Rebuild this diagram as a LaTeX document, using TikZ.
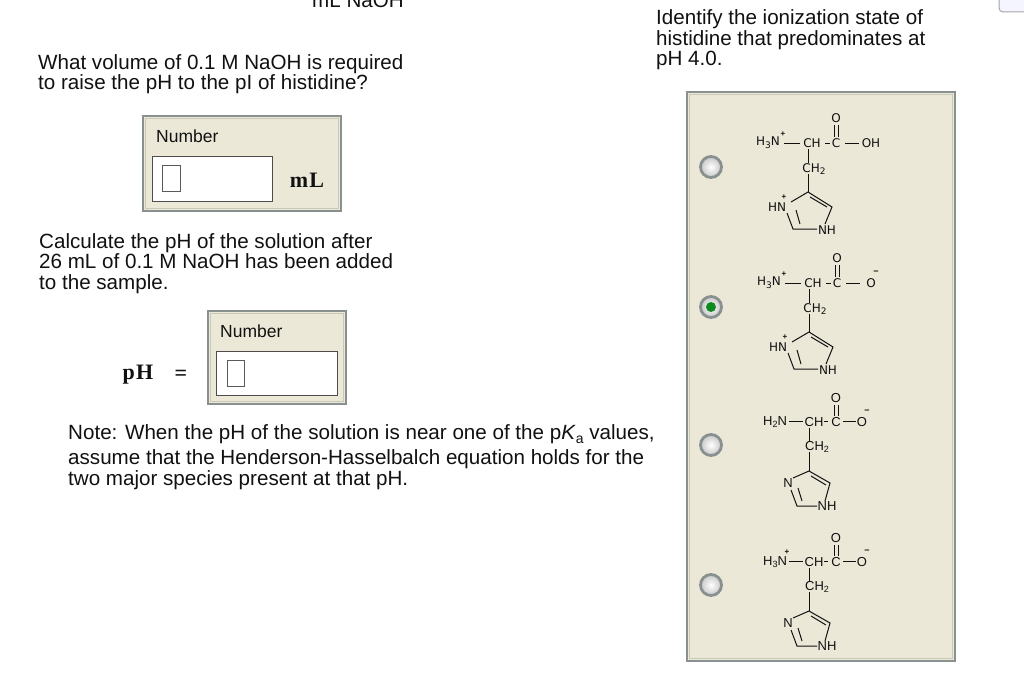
\documentclass[tikz,border=0pt]{standalone}
\usepackage{fontspec}
\setmainfont{Liberation Sans}
\newfontfamily\molsans{DejaVu Sans}
\newfontfamily\serifb[LetterSpace=6]{Liberation Serif}
\definecolor{panel}{HTML}{EBE8D8}
\definecolor{edge}{HTML}{88918F}
\definecolor{edgein}{HTML}{C9C9B8}
\definecolor{ink}{HTML}{111111}
\definecolor{radiog}{HTML}{0F8A1E}
\newcommand{\subd}[1]{\raisebox{-.22em}{\fontsize{9}{9}\selectfont #1}}
\tikzset{
  x=1pt,y=-1pt,
  qtext/.style={anchor=base west,inner sep=0pt,font=\fontsize{20.6}{20.6}\selectfont,text=ink},
  lab/.style={anchor=base west,inner sep=0pt,font=\fontsize{17.5}{17.5}\selectfont,text=ink},
  mathb/.style={inner sep=0pt,font=\serifb\bfseries\fontsize{22}{22}\selectfont,text=ink},
  panelbox/.style={draw=edge,line width=2.5pt,fill=panel},
  panelin/.style={draw=edgein,line width=1.5pt},
  field/.style={draw=black!70,line width=1pt,fill=white},
  cursorbox/.style={draw=black!65,line width=.8pt,fill=white},
  atomA/.style={inner sep=0pt,font=\molsans\fontsize{12}{12}\selectfont,text=ink},
  atomB/.style={inner sep=0pt,font=\fontsize{13}{13}\selectfont,text=ink},
  chg/.style={inner sep=0pt,font=\fontsize{8}{8}\selectfont\bfseries,text=ink},
  bond/.style={draw=ink,line width=1pt},
  radio/.style={circle,minimum size=21pt,inner sep=0pt,draw=edge,line width=2.8pt,inner color=white,outer color=white!78!black},
  radiodot/.style={circle,minimum size=10pt,inner sep=0pt,fill=radiog},
}
% first drawing style: #1 x shift, #2 y shift, #3 node prefix, #4 acid tail text, #5 1 if minus charge
\newcommand{\molupper}[5]{%
 \begin{scope}[shift={(#1,#2)}]
  \node[atomA] (#3n) at (768,143) {H\subd{3}N};
  \node[chg] (#3np) at (783,134) {+};
  \node[atomA] (#3ca) at (812,143) {CH};
  \node[atomA] (#3c) at (836,143) {C};
  \node[atomA] (#3o) at (836,118) {O};
  \node[atomA] (#3t) at (#1*-1+871,143) {#4};
  \node[atomA] (#3b) at (814,169) {CH\subd{2}};
  \node[atomA] (#3hn) at (777,207) {HN};
  \node[chg] (#3hp) at (784,197) {+};
  \node[atomA] (#3nh) at (827,230) {NH};
  \ifnum#5=1 \node[chg] (#3m) at (875,133) {\fontsize{9}{9}\selectfont −}; \fi
  \draw[bond] (784,143)--(800,143) (825,143)--(830,143) (845,143)--(859,143);
  \draw[bond] (834,125)--(834,137) (838,125)--(838,137);
  \draw[bond] (808,149)--(808,163) (808,174)--(808,192);
  \draw[bond] (791,202)--(808,192)--(832,207)--(825,224);
  \draw[bond] (810,197)--(827,207);
  \draw[bond] (787,213)--(793,229)--(817,229);
  \draw[bond] (796,210)--(800,224);
 \end{scope}}
% second drawing style
\newcommand{\mollower}[4]{%
 \begin{scope}[shift={(0,#1)}]
  \node[atomB] (#2n) at (775,422) {#3};
  \ifnum#4=1 \node[chg] (#2np) at (787,412) {+}; \fi
  \node[atomB] (#2ca) at (814,422) {CH};
  \node[atomB] (#2c) at (836,422) {C};
  \node[atomB] (#2o) at (836,398) {O};
  \node[atomB] (#2t) at (862,422) {O};
  \node[chg] (#2m) at (867,412) {\fontsize{9}{9}\selectfont −};
  \node[atomB] (#2b) at (817,447) {CH\subd{2}};
  \node[atomB] (#2hn) at (788,483) {N};
  \node[atomB] (#2nh) at (827,506) {NH};
  \draw[bond] (789,421)--(803,421) (824,421)--(828,421) (843,421)--(856,421);
  \draw[bond] (834,405)--(834,416) (838,405)--(838,416);
  \draw[bond] (809,428)--(809,442) (809,452)--(809,471);
  \draw[bond] (793,478)--(809,471)--(830,483)--(825,501);
  \draw[bond] (811,476)--(826,485);
  \draw[bond] (791,490)--(797,506)--(817,506);
  \draw[bond] (798,488)--(802,501);
 \end{scope}}
\begin{document}
\begin{tikzpicture}
\clip (0,0) rectangle (1024,682);
\useasboundingbox (0,0) rectangle (1024,682);
\fill[white] (0,0) rectangle (1024,682);
% top remnants
\node[qtext] (topunit) at (312,8) {mL NaOH};
\draw[fill=blue!4,draw=black!35,line width=1pt,rounded corners=4pt] (999,-8) rectangle (1034,12);
% left questions
\node[qtext] (q1a) at (38,70) {What volume of 0.1 M NaOH is required};
\node[qtext] (q1b) at (38,90) {to raise the pH to the pI of histidine?};
\node[qtext] (q2a) at (39,248) {Calculate the pH of the solution after};
\node[qtext] (q2b) at (39,268) {26 mL of 0.1 M NaOH has been added};
\node[qtext] (q2c) at (39,289) {to the sample.};
\node[qtext] (n1) at (68,439) {Note: When the pH of the solution is near one of the p\textit{K}\raisebox{-.2em}{\fontsize{14}{14}\selectfont a} values,};
\node[qtext] (n2) at (68,464) {assume that the Henderson-Hasselbalch equation holds for the};
\node[qtext] (n3) at (68,485) {two major species present at that pH.};
% right question
\node[qtext] (r1) at (656,25) {Identify the ionization state of};
\node[qtext] (r2) at (656,46) {histidine that predominates at};
\node[qtext] (r3) at (656,66) {pH 4.0.};
% answer box 1
\draw[panelbox] (143,116) rectangle (341,211);
\draw[panelin] (145.5,118.5) rectangle (338.5,208.5);
\node[lab] (num1) at (156,142) {Number};
\draw[field] (152,156) rectangle (272,201);
\draw[cursorbox] (162,165) rectangle (180,191);
\node[mathb] (ml) at (307,180) {mL};
% answer box 2
\node[mathb] (ph) at (138,375) {pH};
\node[mathb] (eq) at (181,375) {=};
\draw[panelbox] (208,311) rectangle (346,404);
\draw[panelin] (210.5,313.5) rectangle (343.5,401.5);
\node[lab] (num2) at (220,337) {Number};
\draw[field] (216,351) rectangle (337,395);
\draw[cursorbox] (227,360) rectangle (244,386);
% choices panel
\draw[panelbox] (687,92) rectangle (955,661);
\draw[panelin] (689.5,94.5) rectangle (952.5,658.5);
\node[radio] (ra) at (711,167) {};
\node[radio] (rb) at (711,307) {};
\node[radiodot] (rbd) at (711,307) {};
\node[radio] (rc) at (711,445) {};
\node[radio] (rd) at (711,585) {};
\molupper{0}{0}{a}{OH}{0}
\molupper{1}{140}{b}{O}{1}
\mollower{0}{c}{H\subd{2}N}{0}
\mollower{140}{d}{H\subd{3}N}{1}
\end{tikzpicture}
\end{document}
